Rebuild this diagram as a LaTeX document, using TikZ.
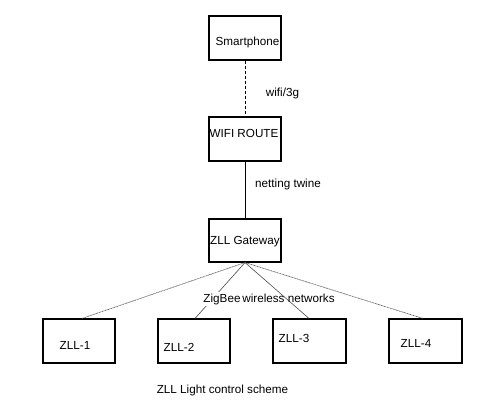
\documentclass[tikz,border=0pt]{standalone}
\usepackage{fontspec}
\setmainfont{Liberation Sans}
\begin{document}
\begin{tikzpicture}[x=1pt,y=-1pt,
  box/.style={draw=black,line width=1.1pt,minimum width=72pt,minimum height=44pt,inner sep=0pt,fill=white},
  txt/.style={font=\fontsize{11.7}{14}\selectfont,inner sep=0pt},
  fan/.style={draw=black!70,line width=0.6pt},
  fandot/.style={draw=black!70,line width=0.6pt,dash pattern=on 1pt off 0.6pt}]
\useasboundingbox[fill=white] (0,0) rectangle (499,414);
% boxes
\node[box] (sp) at (245,38) {};
\node[box] (wr) at (245,139) {};
\node[box,minimum height=43pt] (gw) at (245,240.5) {};
\node[box] (z1) at (79,341) {};
\node[box] (z2) at (194,341) {};
\node[box,minimum width=73pt] (z3) at (309.5,341) {};
\node[box,minimum width=73pt] (z4) at (425.5,341) {};
% connectors
\draw[line width=0.8pt,dash pattern=on 3pt off 2pt] (sp.south) -- (wr.north);
\draw[line width=0.8pt] (wr.south) -- (gw.north);
\draw[fandot] (gw.south) -- ([xshift=3pt]z1.north);
\draw[fan] (gw.south) -- ([xshift=1pt]z2.north);
\draw[fan] (gw.south) -- ([xshift=-0.5pt]z3.north);
\draw[fandot] (gw.south) -- ([xshift=-2.5pt]z4.north);
% texts
\node[txt] (tsp) at (247.5,42) {Smartphone};
\node[txt] (twr) at (244,133) {WIFI ROUTE};
\node[txt] (tgw) at (245,242) {ZLL Gateway};
\node[txt] (t1) at (75,345) {ZLL-1};
\node[txt] (t2) at (179,347) {ZLL-2};
\node[txt] (t3) at (294,338) {ZLL-3};
\node[txt] (t4) at (416,343) {ZLL-4};
\node[txt] (lwifi) at (282.5,93) {wifi/3g};
\node[txt] (lnet) at (288,184) {netting twine};
\node[txt,fill=white,inner sep=2pt] (lzig) at (222,299) {ZigBee};
\node[txt] (lwl) at (288.5,298) {wireless networks};
\node[txt] (cap) at (222.5,390) {ZLL Light control scheme};
\end{tikzpicture}
\end{document}
